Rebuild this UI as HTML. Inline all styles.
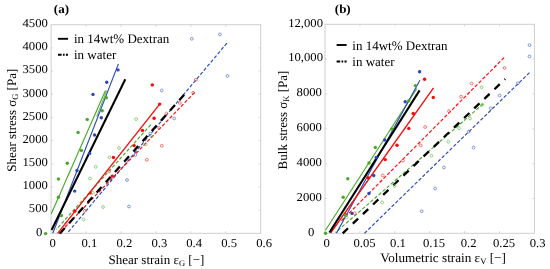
<!DOCTYPE html>
<html><head><meta charset="utf-8"><title>Figure</title>
<style>
html,body{margin:0;padding:0;background:#fff;}
svg{display:block;}
text{font-family:"Liberation Serif","Times New Roman",serif;fill:#000;text-rendering:geometricPrecision;}
</style></head>
<body>
<svg width="550" height="269" viewBox="0 0 550 269">
<defs><filter id="soft" x="0" y="0" width="550" height="269" filterUnits="userSpaceOnUse"><feGaussianBlur stdDeviation="0.38"/></filter><filter id="softt" x="0" y="0" width="550" height="269" filterUnits="userSpaceOnUse"><feGaussianBlur stdDeviation="0.25"/></filter></defs>
<rect width="550" height="269" fill="#fff"/>
<g filter="url(#soft)">
<rect x="51.1" y="24.7" width="209.6" height="208.60000000000002" fill="none" stroke="#cfcfcf" stroke-width="1"/><path d="M86.03 233.3v-2.2M86.03 24.7v2.2M120.97 233.3v-2.2M120.97 24.7v2.2M155.90 233.3v-2.2M155.90 24.7v2.2M190.83 233.3v-2.2M190.83 24.7v2.2M225.77 233.3v-2.2M225.77 24.7v2.2M51.1 210.12h2.2M260.7 210.12h-2.2M51.1 186.94h2.2M260.7 186.94h-2.2M51.1 163.77h2.2M260.7 163.77h-2.2M51.1 140.59h2.2M260.7 140.59h-2.2M51.1 117.41h2.2M260.7 117.41h-2.2M51.1 94.23h2.2M260.7 94.23h-2.2M51.1 71.06h2.2M260.7 71.06h-2.2M51.1 47.88h2.2M260.7 47.88h-2.2" stroke="#cfcfcf" stroke-width="0.8" fill="none"/>
<rect x="325.0" y="24.3" width="209.39999999999998" height="209.0" fill="none" stroke="#cfcfcf" stroke-width="1"/><path d="M359.90 233.3v-2.2M359.90 24.3v2.2M394.80 233.3v-2.2M394.80 24.3v2.2M429.70 233.3v-2.2M429.70 24.3v2.2M464.60 233.3v-2.2M464.60 24.3v2.2M499.50 233.3v-2.2M499.50 24.3v2.2M325.0 198.47h2.2M534.4 198.47h-2.2M325.0 163.63h2.2M534.4 163.63h-2.2M325.0 128.80h2.2M534.4 128.80h-2.2M325.0 93.97h2.2M534.4 93.97h-2.2M325.0 59.13h2.2M534.4 59.13h-2.2" stroke="#cfcfcf" stroke-width="0.8" fill="none"/>
<line x1="226.9" y1="43.1" x2="67.0" y2="233.5" stroke="#2a49b8" stroke-width="1.15" stroke-dasharray="3.5 1.9" stroke-linecap="butt"/>
<line x1="194.6" y1="92.4" x2="59.0" y2="233.5" stroke="#f50808" stroke-width="1.15" stroke-dasharray="3.5 1.9" stroke-linecap="butt"/>
<line x1="150.8" y1="124.7" x2="56.3" y2="229.4" stroke="#4aa82a" stroke-width="1.15" stroke-dasharray="3.5 1.9" stroke-linecap="butt"/>
<line x1="59.9" y1="233.4" x2="184.2" y2="94.7" stroke="#000" stroke-width="2.3" stroke-dasharray="7.3 6.46" stroke-linecap="butt"/>
<line x1="51.2" y1="214.1" x2="105.5" y2="90.6" stroke="#4aa82a" stroke-width="1.15" stroke-linecap="butt"/>
<line x1="106.7" y1="90.6" x2="96.7" y2="116.5" stroke="#4aa82a" stroke-width="0.85" stroke-linecap="butt"/>
<line x1="52.8" y1="233.2" x2="118.4" y2="63.9" stroke="#2a49b8" stroke-width="1.15" stroke-linecap="butt"/>
<line x1="57.6" y1="233.3" x2="159.7" y2="104.1" stroke="#f50808" stroke-width="1.3" stroke-linecap="butt"/>
<line x1="51.6" y1="230.0" x2="125.3" y2="79.2" stroke="#000" stroke-width="2.05" stroke-linecap="butt"/>
<circle cx="118.0" cy="69.9" r="1.7" fill="#2a49b8"/><circle cx="106.7" cy="82.3" r="1.7" fill="#2a49b8"/><circle cx="93.0" cy="94.4" r="1.7" fill="#2a49b8"/><circle cx="101.3" cy="117.7" r="1.7" fill="#2a49b8"/><circle cx="94.6" cy="135" r="1.7" fill="#2a49b8"/><circle cx="89.6" cy="153.4" r="1.7" fill="#2a49b8"/><circle cx="77" cy="170.5" r="1.7" fill="#2a49b8"/><circle cx="74.7" cy="191.1" r="1.7" fill="#2a49b8"/><circle cx="106.3" cy="97.8" r="1.7" fill="#4aa82a"/><circle cx="102.2" cy="110.8" r="1.7" fill="#4aa82a"/><circle cx="87.2" cy="119.5" r="1.7" fill="#4aa82a"/><circle cx="78.1" cy="132.5" r="1.7" fill="#4aa82a"/><circle cx="81.4" cy="150.4" r="1.7" fill="#4aa82a"/><circle cx="67.3" cy="163.3" r="1.7" fill="#4aa82a"/><circle cx="58.4" cy="179" r="1.7" fill="#4aa82a"/><circle cx="58.4" cy="197.3" r="1.7" fill="#4aa82a"/><circle cx="61.4" cy="215.5" r="1.7" fill="#4aa82a"/><circle cx="45.6" cy="233.6" r="1.7" fill="#4aa82a"/><circle cx="152.3" cy="84.9" r="1.7" fill="#f50808"/><circle cx="159.7" cy="104.1" r="1.7" fill="#f50808"/><circle cx="154.1" cy="118.2" r="1.7" fill="#f50808"/><circle cx="142.5" cy="130.4" r="1.7" fill="#f50808"/><circle cx="134.1" cy="145.6" r="1.7" fill="#f50808"/><circle cx="113.4" cy="157.4" r="1.7" fill="#f50808"/><circle cx="112.3" cy="176.1" r="1.7" fill="#f50808"/><circle cx="90.4" cy="192.9" r="1.7" fill="#f50808"/><circle cx="74.7" cy="211.3" r="1.7" fill="#f50808"/>
<circle cx="191.8" cy="38.8" r="1.4" fill="none" stroke="#5570cc" stroke-width="0.7"/><circle cx="219.9" cy="34.4" r="1.4" fill="none" stroke="#5570cc" stroke-width="0.7"/><circle cx="227.5" cy="75.9" r="1.4" fill="none" stroke="#5570cc" stroke-width="0.7"/><circle cx="161.7" cy="90.5" r="1.4" fill="none" stroke="#5570cc" stroke-width="0.7"/><circle cx="174.2" cy="118.4" r="1.4" fill="none" stroke="#5570cc" stroke-width="0.7"/><circle cx="150.2" cy="133.5" r="1.4" fill="none" stroke="#5570cc" stroke-width="0.7"/><circle cx="135.4" cy="155" r="1.4" fill="none" stroke="#5570cc" stroke-width="0.7"/><circle cx="127" cy="180" r="1.4" fill="none" stroke="#5570cc" stroke-width="0.7"/><circle cx="129" cy="206.5" r="1.4" fill="none" stroke="#5570cc" stroke-width="0.7"/><circle cx="136.1" cy="119.1" r="1.4" fill="none" stroke="#6cc050" stroke-width="0.7"/><circle cx="151.3" cy="136.2" r="1.4" fill="none" stroke="#6cc050" stroke-width="0.7"/><circle cx="145.7" cy="144.4" r="1.4" fill="none" stroke="#6cc050" stroke-width="0.7"/><circle cx="119" cy="148" r="1.4" fill="none" stroke="#6cc050" stroke-width="0.7"/><circle cx="109.4" cy="157.3" r="1.4" fill="none" stroke="#6cc050" stroke-width="0.7"/><circle cx="95.7" cy="166.8" r="1.4" fill="none" stroke="#6cc050" stroke-width="0.7"/><circle cx="90" cy="178.5" r="1.4" fill="none" stroke="#6cc050" stroke-width="0.7"/><circle cx="92.9" cy="192.8" r="1.4" fill="none" stroke="#6cc050" stroke-width="0.7"/><circle cx="103" cy="207" r="1.4" fill="none" stroke="#6cc050" stroke-width="0.7"/><circle cx="83.7" cy="219.4" r="1.4" fill="none" stroke="#6cc050" stroke-width="0.7"/><circle cx="195.8" cy="79.9" r="1.4" fill="none" stroke="#f04040" stroke-width="0.7"/><circle cx="193.2" cy="92.8" r="1.4" fill="none" stroke="#f04040" stroke-width="0.7"/><circle cx="179.8" cy="103" r="1.4" fill="none" stroke="#f04040" stroke-width="0.7"/><circle cx="166.4" cy="113.5" r="1.4" fill="none" stroke="#f04040" stroke-width="0.7"/><circle cx="159.1" cy="128" r="1.4" fill="none" stroke="#f04040" stroke-width="0.7"/><circle cx="161.8" cy="145.8" r="1.4" fill="none" stroke="#f04040" stroke-width="0.7"/><circle cx="146.8" cy="159.8" r="1.4" fill="none" stroke="#f04040" stroke-width="0.7"/><circle cx="109.2" cy="171.2" r="1.4" fill="none" stroke="#f04040" stroke-width="0.7"/><circle cx="84.9" cy="210.7" r="1.4" fill="none" stroke="#f04040" stroke-width="0.7"/><circle cx="65.9" cy="224" r="1.4" fill="none" stroke="#f04040" stroke-width="0.7"/>
<line x1="529.5" y1="72.6" x2="364.5" y2="233.3" stroke="#2a49b8" stroke-width="1.15" stroke-dasharray="3.5 1.9" stroke-linecap="butt"/>
<line x1="504.1" y1="57.6" x2="340.3" y2="222.0" stroke="#f50808" stroke-width="1.15" stroke-dasharray="3.5 1.9" stroke-linecap="butt"/>
<line x1="483.0" y1="104.0" x2="335.5" y2="232.5" stroke="#4aa82a" stroke-width="1.15" stroke-dasharray="3.5 1.9" stroke-linecap="butt"/>
<line x1="342.7" y1="233.3" x2="505.2" y2="79.0" stroke="#000" stroke-width="2.3" stroke-dasharray="7.3 6.65" stroke-linecap="butt"/>
<line x1="325.5" y1="230.2" x2="416.8" y2="88.5" stroke="#4aa82a" stroke-width="1.15" stroke-linecap="butt"/>
<line x1="336.4" y1="233.3" x2="419.9" y2="80.3" stroke="#2a49b8" stroke-width="1.15" stroke-linecap="butt"/>
<line x1="330.6" y1="233.0" x2="433.5" y2="87.9" stroke="#f50808" stroke-width="1.3" stroke-linecap="butt"/>
<line x1="329.4" y1="232.5" x2="419.6" y2="90.4" stroke="#000" stroke-width="2.05" stroke-linecap="butt"/>
<circle cx="419.6" cy="71.7" r="1.7" fill="#2a49b8"/><circle cx="405.2" cy="101.8" r="1.7" fill="#2a49b8"/><circle cx="384.7" cy="140" r="1.7" fill="#2a49b8"/><circle cx="376.2" cy="157.4" r="1.7" fill="#2a49b8"/><circle cx="373.7" cy="175.5" r="1.7" fill="#2a49b8"/><circle cx="368.9" cy="193.5" r="1.7" fill="#2a49b8"/><circle cx="352" cy="213.4" r="1.7" fill="#2a49b8"/><circle cx="424.6" cy="79.2" r="1.7" fill="#f50808"/><circle cx="433.3" cy="97.4" r="1.7" fill="#f50808"/><circle cx="413.2" cy="113.5" r="1.7" fill="#f50808"/><circle cx="408.8" cy="128.4" r="1.7" fill="#f50808"/><circle cx="397" cy="145.2" r="1.7" fill="#f50808"/><circle cx="385.2" cy="159.6" r="1.7" fill="#f50808"/><circle cx="368" cy="177.7" r="1.7" fill="#f50808"/><circle cx="345.3" cy="214.6" r="1.7" fill="#f50808"/><circle cx="415.4" cy="85.6" r="1.7" fill="#4aa82a"/><circle cx="408.8" cy="100.7" r="1.7" fill="#4aa82a"/><circle cx="391.8" cy="129.1" r="1.7" fill="#4aa82a"/><circle cx="375.3" cy="147.4" r="1.7" fill="#4aa82a"/><circle cx="369.0" cy="163" r="1.7" fill="#4aa82a"/><circle cx="347.8" cy="178.7" r="1.7" fill="#4aa82a"/><circle cx="343.2" cy="197.2" r="1.7" fill="#4aa82a"/><circle cx="345.3" cy="215.3" r="1.7" fill="#4aa82a"/><circle cx="325.5" cy="233.3" r="1.7" fill="#4aa82a"/>
<circle cx="529.5" cy="45.1" r="1.4" fill="none" stroke="#5570cc" stroke-width="0.7"/><circle cx="529.5" cy="56.4" r="1.4" fill="none" stroke="#5570cc" stroke-width="0.7"/><circle cx="517.9" cy="83.3" r="1.4" fill="none" stroke="#5570cc" stroke-width="0.7"/><circle cx="499.7" cy="95.5" r="1.4" fill="none" stroke="#5570cc" stroke-width="0.7"/><circle cx="490.8" cy="108.3" r="1.4" fill="none" stroke="#5570cc" stroke-width="0.7"/><circle cx="468.8" cy="131.5" r="1.4" fill="none" stroke="#5570cc" stroke-width="0.7"/><circle cx="473.6" cy="147.6" r="1.4" fill="none" stroke="#5570cc" stroke-width="0.7"/><circle cx="443.9" cy="167.5" r="1.4" fill="none" stroke="#5570cc" stroke-width="0.7"/><circle cx="435.1" cy="188.5" r="1.4" fill="none" stroke="#5570cc" stroke-width="0.7"/><circle cx="421.7" cy="211.2" r="1.4" fill="none" stroke="#5570cc" stroke-width="0.7"/><circle cx="481.6" cy="87.2" r="1.4" fill="none" stroke="#6cc050" stroke-width="0.7"/><circle cx="482.3" cy="104.7" r="1.4" fill="none" stroke="#6cc050" stroke-width="0.7"/><circle cx="470" cy="118.5" r="1.4" fill="none" stroke="#6cc050" stroke-width="0.7"/><circle cx="459" cy="128.2" r="1.4" fill="none" stroke="#6cc050" stroke-width="0.7"/><circle cx="448.3" cy="141.7" r="1.4" fill="none" stroke="#6cc050" stroke-width="0.7"/><circle cx="431.4" cy="155.7" r="1.4" fill="none" stroke="#6cc050" stroke-width="0.7"/><circle cx="394.6" cy="186" r="1.4" fill="none" stroke="#6cc050" stroke-width="0.7"/><circle cx="382.2" cy="202.4" r="1.4" fill="none" stroke="#6cc050" stroke-width="0.7"/><circle cx="346.6" cy="217.6" r="1.4" fill="none" stroke="#6cc050" stroke-width="0.7"/><circle cx="504.6" cy="68" r="1.4" fill="none" stroke="#f04040" stroke-width="0.7"/><circle cx="471.5" cy="83.5" r="1.4" fill="none" stroke="#f04040" stroke-width="0.7"/><circle cx="461.1" cy="96.7" r="1.4" fill="none" stroke="#f04040" stroke-width="0.7"/><circle cx="449" cy="111.2" r="1.4" fill="none" stroke="#f04040" stroke-width="0.7"/><circle cx="425.1" cy="127" r="1.4" fill="none" stroke="#f04040" stroke-width="0.7"/><circle cx="420.7" cy="145.4" r="1.4" fill="none" stroke="#f04040" stroke-width="0.7"/><circle cx="403" cy="160.6" r="1.4" fill="none" stroke="#f04040" stroke-width="0.7"/><circle cx="382.7" cy="175.5" r="1.4" fill="none" stroke="#f04040" stroke-width="0.7"/><circle cx="354.7" cy="213.2" r="1.4" fill="none" stroke="#f04040" stroke-width="0.7"/>
<line x1="58" y1="38.8" x2="68" y2="38.8" stroke="#000" stroke-width="1.9" stroke-linecap="butt"/>
<line x1="58" y1="54.8" x2="68" y2="54.8" stroke="#000" stroke-width="1.9" stroke-dasharray="3.6 1.3 1.7 1.3 2.1 0" stroke-linecap="butt"/>
<line x1="336.6" y1="45" x2="346.6" y2="45" stroke="#000" stroke-width="1.9" stroke-linecap="butt"/>
<line x1="336.6" y1="61.5" x2="346.6" y2="61.5" stroke="#000" stroke-width="1.9" stroke-dasharray="3.6 1.3 1.7 1.3 2.1 0" stroke-linecap="butt"/>
</g>
<g filter="url(#softt)">
<text x="74.0" y="43.1" font-size="13" text-anchor="start">in 14wt% Dextran</text>
<text x="74.0" y="59.1" font-size="13" text-anchor="start">in water</text>
<text x="352.3" y="49.9" font-size="13" text-anchor="start">in 14wt% Dextran</text>
<text x="352.3" y="65.9" font-size="13" text-anchor="start">in water</text>
<text transform="translate(53.8,12.8) scale(1.05,1)" font-size="12.4" text-anchor="start" font-weight="bold">(a)</text>
<text transform="translate(334.8,13.2) scale(1.05,1)" font-size="12.4" text-anchor="start" font-weight="bold">(b)</text>
<text transform="translate(42.4,235.6) scale(1.055,1)" font-size="12" text-anchor="end">0</text>
<text transform="translate(47.8,212.4) scale(1.055,1)" font-size="12" text-anchor="end">500</text>
<text transform="translate(47.8,189.2) scale(1.055,1)" font-size="12" text-anchor="end">1000</text>
<text transform="translate(47.8,166.1) scale(1.055,1)" font-size="12" text-anchor="end">1500</text>
<text transform="translate(47.8,142.9) scale(1.055,1)" font-size="12" text-anchor="end">2000</text>
<text transform="translate(47.8,119.7) scale(1.055,1)" font-size="12" text-anchor="end">2500</text>
<text transform="translate(47.8,96.5) scale(1.055,1)" font-size="12" text-anchor="end">3000</text>
<text transform="translate(47.8,73.4) scale(1.055,1)" font-size="12" text-anchor="end">3500</text>
<text transform="translate(47.8,50.2) scale(1.055,1)" font-size="12" text-anchor="end">4000</text>
<text transform="translate(47.8,27.0) scale(1.055,1)" font-size="12" text-anchor="end">4500</text>
<text transform="translate(52.6,247.2) scale(1.055,1)" font-size="12" text-anchor="middle">0</text>
<text transform="translate(89.4,247.2) scale(1.055,1)" font-size="12" text-anchor="middle">0.1</text>
<text transform="translate(124.4,247.2) scale(1.055,1)" font-size="12" text-anchor="middle">0.2</text>
<text transform="translate(159.3,247.2) scale(1.055,1)" font-size="12" text-anchor="middle">0.3</text>
<text transform="translate(194.2,247.2) scale(1.055,1)" font-size="12" text-anchor="middle">0.4</text>
<text transform="translate(229.2,247.2) scale(1.055,1)" font-size="12" text-anchor="middle">0.5</text>
<text transform="translate(264.1,247.2) scale(1.055,1)" font-size="12" text-anchor="middle">0.6</text>
<text transform="translate(314.4,235.6) scale(1.055,1)" font-size="12" text-anchor="end">0</text>
<text transform="translate(321.9,200.8) scale(1.055,1)" font-size="12" text-anchor="end">2000</text>
<text transform="translate(321.9,165.9) scale(1.055,1)" font-size="12" text-anchor="end">4000</text>
<text transform="translate(321.9,131.1) scale(1.055,1)" font-size="12" text-anchor="end">6000</text>
<text transform="translate(321.9,96.3) scale(1.055,1)" font-size="12" text-anchor="end">8000</text>
<text transform="translate(323.0,61.4) scale(1.055,1)" font-size="12" text-anchor="end">10,000</text>
<text transform="translate(323.0,26.6) scale(1.055,1)" font-size="12" text-anchor="end">12,000</text>
<text transform="translate(326.7,247.2) scale(1.055,1)" font-size="12" text-anchor="middle">0</text>
<text transform="translate(364.5,247.2) scale(1.055,1)" font-size="12" text-anchor="middle">0.05</text>
<text transform="translate(398.0,247.2) scale(1.055,1)" font-size="12" text-anchor="middle">0.1</text>
<text transform="translate(434.1,247.2) scale(1.055,1)" font-size="12" text-anchor="middle">0.15</text>
<text transform="translate(468.6,247.2) scale(1.055,1)" font-size="12" text-anchor="middle">0.2</text>
<text transform="translate(504.1,247.2) scale(1.055,1)" font-size="12" text-anchor="middle">0.25</text>
<text transform="translate(537.7,247.2) scale(1.055,1)" font-size="12" text-anchor="middle">0.3</text>
<text x="108.5" y="263.5" font-size="13" text-anchor="start">Shear strain ε<tspan font-size="8.5" dy="2">G</tspan><tspan dy="-2"> [−]</tspan></text>
<text transform="translate(380.3,261.6) scale(1.015,1)" font-size="13" text-anchor="start">Volumetric strain ε<tspan font-size="8.5" dy="2">V</tspan><tspan dy="-2"> [−]</tspan></text>
<text transform="translate(16.0,171.8) rotate(-90)" font-size="13">Shear stress σ<tspan font-size="8.5" dy="2">G</tspan><tspan dy="-2"> [Pa]</tspan></text>
<text transform="translate(286.6,169.4) rotate(-90)" font-size="13">Bulk stress σ<tspan font-size="8.5" dy="2">K</tspan><tspan dy="-2"> [Pa]</tspan></text>
</g>
</svg>
</body></html>
